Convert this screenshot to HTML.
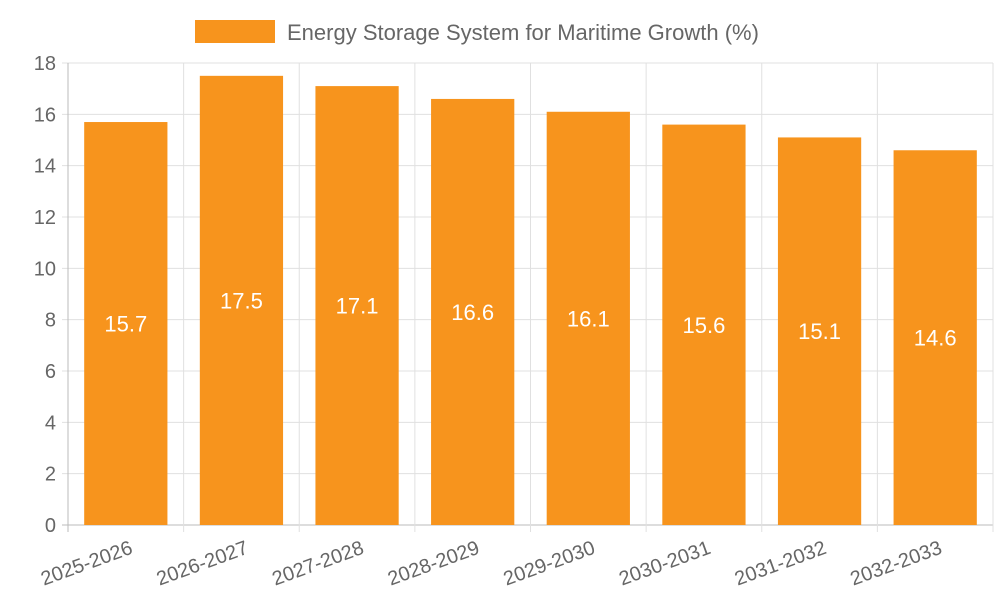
<!DOCTYPE html>
<html><head><meta charset="utf-8"><style>
body{margin:0;background:#fff;}
svg{display:block;font-family:"Liberation Sans",sans-serif;}
</style></head><body>
<svg id="chart" width="1000" height="600">
<g id="legend">
<rect x="195" y="20" width="80" height="23" fill="#f7941d"></rect>
<text x="287" y="40" font-size="22" fill="#666">Energy Storage System for Maritime Growth (%)</text>
</g>
<g id="grid"></g>
<g id="bars"></g>
<g id="yaxis"></g>
<g id="xaxis"></g>
</svg>
<script>
const categories=["2025-2026","2026-2027","2027-2028","2028-2029","2029-2030","2030-2031","2031-2032","2032-2033"];
const values=[15.7,17.5,17.1,16.6,16.1,15.6,15.1,14.6];
const yTicks=[0,2,4,6,8,10,12,14,16,18];
const L=68,R=993,T=63,B=525,yMax=18;
const NS="http://www.w3.org/2000/svg";
const y=v=>B-(v/yMax)*(B-T);
const bw=(R-L)/categories.length;
const x=i=>L+i*bw;
function mk(tag,attrs,parent,txt){const e=document.createElementNS(NS,tag);for(const k in attrs)e.setAttribute(k,attrs[k]);if(txt!==undefined)e.textContent=txt;parent.appendChild(e);return e;}
const grid=document.getElementById('grid'),bars=document.getElementById('bars'),ya=document.getElementById('yaxis'),xa=document.getElementById('xaxis');
yTicks.forEach(t=>{
 const g=mk('line',{x1:L-6,x2:R,y1:y(t),y2:y(t),stroke:t===0?'#bbb':'#e0e0e0','stroke-width':1},grid);
 
 
 const lb=mk('text',{x:L-12,y:y(t)+7,'text-anchor':'end','font-size':20,fill:'#666'},ya,String(t));
 
 
});
for(let i=0;i<=categories.length;i++){
 const g=mk('line',{x1:x(i),x2:x(i),y1:T,y2:B+7,stroke:i===0?'#bbb':'#e0e0e0','stroke-width':1},grid);
 
 
}
categories.forEach((c,i)=>{
 const w=bw*0.72,cx=x(i)+bw/2;
 const r=mk('rect',{x:cx-w/2,y:y(values[i]),width:w,height:B-y(values[i]),fill:'#f7941d'},bars);
 
 
 const v=mk('text',{x:cx,y:(y(values[i])+B)/2+8,'text-anchor':'middle','font-size':22,fill:'#fff'},bars,values[i].toFixed(1));
 
 
 const lb=mk('text',{x:cx+8,y:B+28,'text-anchor':'end','font-size':20,fill:'#666',transform:`rotate(-20 ${cx+8} ${B+28})`},xa,c);
 
 
});
</script>
</body></html>
